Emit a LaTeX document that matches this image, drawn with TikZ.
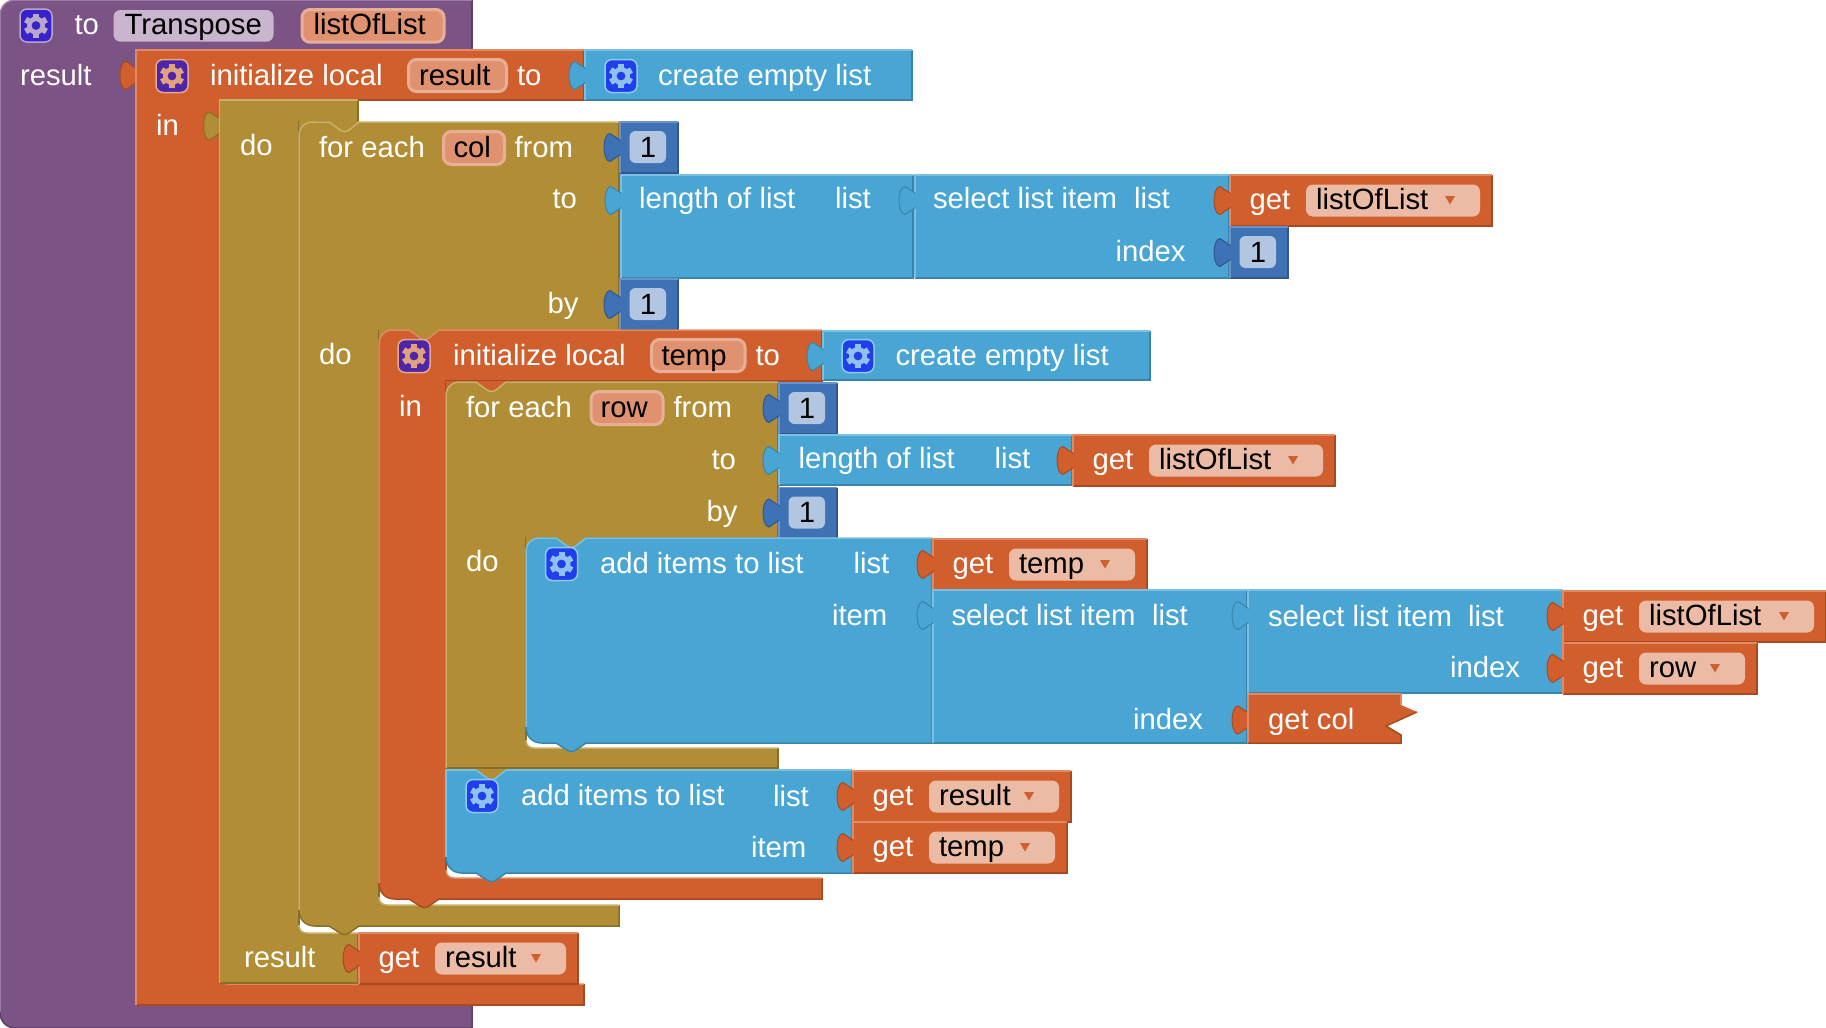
\documentclass[tikz,border=0pt]{standalone}
\usepackage{fontspec}
\setmainfont{Liberation Sans}
\definecolor{puF}{HTML}{7C5385}\definecolor{puL}{HTML}{9B7BA3}\definecolor{puD}{HTML}{5F3F68}
\definecolor{orF}{HTML}{D05F2D}\definecolor{orL}{HTML}{E08A63}\definecolor{orD}{HTML}{A84A20}
\definecolor{goF}{HTML}{B18E35}\definecolor{goL}{HTML}{CBB06C}\definecolor{goD}{HTML}{8A6E28}
\definecolor{blF}{HTML}{49A6D4}\definecolor{blL}{HTML}{7BC0E2}\definecolor{blD}{HTML}{3A84A9}
\definecolor{nuF}{HTML}{3F71B5}\definecolor{nuL}{HTML}{6C92CB}\definecolor{nuD}{HTML}{30578E}
\definecolor{fldF}{HTML}{E09270}\definecolor{fldB}{HTML}{E8AE98}
\definecolor{drop}{HTML}{EBBBA5}\definecolor{numf}{HTML}{B2C6E1}\definecolor{namef}{HTML}{C9B6CE}
\definecolor{gearpu}{HTML}{3722CE}\definecolor{gearpc}{HTML}{BBA7C8}\definecolor{gearpb}{HTML}{B9A5C6}
\definecolor{gearor}{HTML}{4E25A8}\definecolor{gearoc}{HTML}{E0A27C}\definecolor{gearob}{HTML}{E6A98F}
\definecolor{gearbl}{HTML}{1F3FEF}\definecolor{gearbc}{HTML}{8FC0EE}\definecolor{gearbb}{HTML}{8FCBEA}
\newcounter{lc}
\tikzset{lab/.style={inner sep=0pt,outer sep=0pt,anchor=base west,font=\fontsize{29.3}{29.3}\selectfont,text=white},
 blk/.style={line width=1.5pt,line cap=butt}}
\newcommand{\lab}[3]{\stepcounter{lc}\node[lab] (t\arabic{lc}) at (#1,#2) {#3};}
\newcommand{\blab}[3]{\stepcounter{lc}\node[lab,text=black] (t\arabic{lc}) at (#1,#2) {#3};}
\def\blr{14}
\newcommand{\cblock}[9]{%
 \fill[#1F] (#2,{#3+#9}) .. controls (#2,{#3+.4*#9}) and ({#2+.4*#9},#3) .. ({#2+#9},#3) -- (#4,#3) -- (#4,#5) -- (#6,#5) -- (#6,{#7-8}) .. controls (#6,{#7-3}) and ({#6+3},#7) .. ({#6+8},#7) -- (#4,#7) -- (#4,#8) -- ({#2+\blr},#8) .. controls ({#2+.4*\blr},#8) and (#2,{#8-.4*\blr}) .. (#2,{#8-\blr}) -- cycle;
 \draw[blk,#1D] (#4,#3) -- (#4,#5) -- (#6,#5) -- (#6,{#7-8});
 \draw[blk,#1D] (#4,#7) -- (#4,#8) -- ({#2+\blr},#8) .. controls ({#2+.4*\blr},#8) and (#2,{#8-.4*\blr}) .. (#2,{#8-\blr});
 \draw[blk,#1L] (#2,{#8-\blr}) -- (#2,{#3+#9}) .. controls (#2,{#3+.4*#9}) and ({#2+.4*#9},#3) .. ({#2+#9},#3) -- (#4,#3);
 \draw[blk,#1L] (#6,{#7-8}) .. controls (#6,{#7-3}) and ({#6+3},#7) .. ({#6+8},#7) -- (#4,#7);
}
\newcommand{\sblock}[7]{%
 \fill[#1F] (#2,{#3+#6}) .. controls (#2,{#3+.4*#6}) and ({#2+.4*#6},#3) .. ({#2+#6},#3) -- (#4,#3) -- (#4,#5) -- ({#2+#7},#5) .. controls ({#2+.4*#7},#5) and (#2,{#5-.4*#7}) .. (#2,{#5-#7}) -- cycle;
 \draw[blk,#1D] (#4,#3) -- (#4,#5) -- ({#2+#7},#5) .. controls ({#2+.4*#7},#5) and (#2,{#5-.4*#7}) .. (#2,{#5-#7});
 \draw[blk,#1L] (#2,{#5-#7}) -- (#2,{#3+#6}) .. controls (#2,{#3+.4*#6}) and ({#2+.4*#6},#3) .. ({#2+#6},#3) -- (#4,#3);
}
\newcommand{\notchf}[4]{%
 \fill[#1F] ({#3+30},{#4-1}) -- ({#3+30},#4) -- ({#3+41},{#4+8}) .. controls ({#3+44},{#4+10}) and ({#3+47},{#4+10}) .. ({#3+50},{#4+8}) -- ({#3+60},#4) -- ({#3+60},{#4-1}) -- cycle;
 \draw[blk,#2L] ({#3+30},#4) -- ({#3+41},{#4+8}) .. controls ({#3+44},{#4+10}) and ({#3+47},{#4+10}) .. ({#3+50},{#4+8}) -- ({#3+60},#4);
}
\newcommand{\btab}[3]{%
 \fill[#1F] ({#2+30},{#3-1}) -- ({#2+41},{#3+7}) .. controls ({#2+44},{#3+9}) and ({#2+47},{#3+9}) .. ({#2+50},{#3+7}) -- ({#2+60},{#3-1}) -- cycle;
 \draw[blk,#1D] ({#2+30},#3) -- ({#2+41},{#3+7}) .. controls ({#2+44},{#3+9}) and ({#2+47},{#3+9}) .. ({#2+50},{#3+7}) -- ({#2+60},#3);
}
\newcommand{\cfill}[3]{\fill[#1F] (#2,{#3-1}) rectangle ({#2+15},{#3+15});}
\newcommand{\ptab}[3]{%
 \fill[#1F] ({#2+1},{#3-7}) -- ({#2-10},{#3-14}) .. controls ({#2-14},{#3-14}) and ({#2-16},{#3-6}) .. ({#2-16},{#3}) .. controls ({#2-16},{#3+6}) and ({#2-14},{#3+14}) .. ({#2-10},{#3+14}) -- ({#2+1},{#3+7}) -- cycle;
 \draw[line width=1pt,#1D] ({#2+.5},{#3-7}) -- ({#2-10},{#3-14}) .. controls ({#2-14},{#3-14}) and ({#2-16},{#3-6}) .. ({#2-16},{#3}) .. controls ({#2-16},{#3+6}) and ({#2-14},{#3+14}) .. ({#2-10},{#3+14}) -- ({#2+.5},{#3+7});
}
\newcommand{\vblock}[5]{%
 \fill[#1F] (#2,#3) rectangle (#4,#5);
 \draw[blk,#1D] (#4,#3) -- (#4,#5) -- (#2,#5);
 \draw[blk,#1L] (#2,#5) -- (#2,#3) -- (#4,#3);
 \ptab{#1}{#2}{(#3+25.5)}
}
\newcommand{\namefld}[7]{%
 \draw[line width=3pt,draw=fldB,fill=fldF,rounded corners=8pt] ({#1+1.5},{#2+1.5}) rectangle ({#3-1.5},{#4-1.5});
 \blab{#5}{#6}{#7}
}
\newcommand{\gearx}[5]{%
 \draw[line width=1.5pt,draw=gear#3,fill=gear#1,rounded corners=7pt] ({#4-16},{#5-16.5}) rectangle ({#4+16},{#5+16.5});
 \fill[gear#2,even odd rule] (#4,#5) circle[radius=9pt] (#4,#5) circle[radius=4.5pt];
 \foreach \a in {0,60,...,300}{\fill[gear#2,rotate around={\a:(#4,#5)}] ({#4-3},{#5-12}) rectangle ({#4+3},{#5-7.5});}
}
\newcommand{\getb}[4]{%
 \vblock{or}{#1}{#2}{#3}{{#2+51}}
 \lab{{#1+19.5}}{{#2+34}}{get}
 \fill[drop,rounded corners=7pt] ({#1+76},{#2+9.5}) rectangle ({#3-12},{#2+41.5});
 \blab{{#1+86}}{{#2+34}}{#4}
 \fill[orF] ({#3-47},{#2+21}) -- ({#3-37},{#2+21}) -- ({#3-42},{#2+29.5}) -- cycle;
}
\newcommand{\numb}[2]{%
 \vblock{nu}{#1}{#2}{{#1+58}}{{#2+51}}
 \fill[numf,rounded corners=6pt] ({#1+9.5},{#2+9}) rectangle ({#1+46},{#2+41});
 \stepcounter{lc}\node[lab,text=black,anchor=base] (t\arabic{lc}) at ({#1+28},{#2+35}) {1};
}
\begin{document}
\begin{tikzpicture}[x=1pt,y=-1pt]
\useasboundingbox (0,0) rectangle (1826,1028);
\def\blr{16}
\cblock{pu}{0}{0}{472}{50}{136}{1005}{1028}{16}
\gearx{pu}{pc}{pb}{36}{25.5}
\lab{74.5}{34}{to}
\fill[namef,rounded corners=7pt] (113.5,10) rectangle (273.5,41.7);
\blab{124.5}{34}{Transpose}
\namefld{300.5}{8}{445.5}{43.7}{313.5}{34}{listOfList}
\lab{20}{85}{result}
\def\blr{0}
\ptab{or}{136}{75.5}
\cblock{or}{136}{50}{584}{100}{219.5}{984}{1005}{0}
\gearx{or}{oc}{ob}{172}{76}
\lab{210}{85}{initialize local}
\namefld{407}{58}{508}{93}{419}{85}{result}
\lab{517}{85}{to}
\lab{156}{135}{in}
\vblock{bl}{585}{50}{912}{100}
\gearx{bl}{bc}{bb}{621}{76}
\lab{658}{85}{create empty list}
\ptab{go}{219.5}{126}
\cblock{go}{219.5}{100}{358}{122}{299}{933}{983}{0}
\lab{240}{155}{do}
\lab{244}{967}{result}
\getb{359}{933}{578}{result}
\cfill{go}{299}{122}
\def\blr{16}
\cblock{go}{299}{122}{619}{331}{379}{905}{926}{14}
\notchf{go}{go}{299}{122}
\lab{319}{157}{for each}
\namefld{442}{130}{506}{166}{453.5}{157}{col}
\lab{514.5}{157}{from}
\lab{552.5}{208}{to}
\lab{547.5}{313}{by}
\lab{319}{364}{do}
\numb{620}{122}
\vblock{bl}{621}{175}{913}{278}
\lab{639}{208}{length of list}
\lab{835}{208}{list}
\vblock{bl}{915}{175}{1229}{278}
\lab{933}{208}{select list item}
\lab{1134}{208}{list}
\lab{1115.5}{261}{index}
\getb{1230}{175}{1492}{listOfList}
\numb{1230}{227}
\numb{620}{279}
\cfill{go}{379}{330}
\cblock{or}{379}{330}{822}{381}{446}{878}{899}{14}
\notchf{go}{or}{379}{330}
\gearx{or}{oc}{ob}{414}{356}
\lab{453}{365}{initialize local}
\namefld{650}{338}{746.5}{373}{661.5}{365}{temp}
\lab{755.5}{365}{to}
\lab{399}{416}{in}
\vblock{bl}{823}{331}{1150}{380}
\gearx{bl}{bc}{bb}{858}{356}
\lab{895.5}{365}{create empty list}
\cfill{or}{446}{382}
\def\blr{0}
\cblock{go}{446}{382}{778}{538}{526}{748}{768}{14}
\notchf{or}{go}{446}{382}
\lab{466}{417}{for each}
\namefld{589.5}{390}{664.5}{426}{600.5}{417}{row}
\lab{673.5}{417}{from}
\lab{711.5}{469}{to}
\lab{706.5}{521}{by}
\lab{466}{571}{do}
\numb{779}{383}
\vblock{bl}{779}{435}{1072}{485}
\lab{798.5}{468}{length of list}
\lab{994.5}{468}{list}
\getb{1073}{435}{1335}{listOfList}
\numb{779}{487.5}
\cfill{go}{526}{538}
\sblock{bl}{526}{538}{932}{743}{14}{16}
\notchf{go}{bl}{526}{538}
\gearx{bl}{bc}{bb}{561.5}{564}
\lab{600}{573}{add items to list}
\lab{853.5}{573}{list}
\lab{832}{625}{item}
\getb{933}{539}{1147}{temp}
\vblock{bl}{933}{590}{1247}{743}
\lab{951.5}{625}{select list item}
\lab{1152}{625}{list}
\lab{1133}{729}{index}
\vblock{bl}{1248}{590}{1563}{693}
\lab{1268}{626}{select list item}
\lab{1468}{626}{list}
\lab{1450}{677}{index}
\getb{1563}{591}{1826}{listOfList}
\getb{1563}{643}{1757}{row}
\ptab{or}{1248}{720}
\fill[orF] (1248,694) -- (1401,694) -- (1401,705) -- (1417,712) -- (1386,726) -- (1401,735) -- (1401,743) -- (1248,743) -- cycle;
\draw[blk,orL] (1248,743) -- (1248,694) -- (1401,694) -- (1401,705);
\draw[blk,orD] (1417,712) -- (1386,726) -- (1401,735) -- (1401,743) -- (1248,743);
\lab{1268}{729}{get col}
\btab{bl}{526}{743}
\sblock{bl}{446}{770}{852}{873}{0}{16}
\notchf{go}{bl}{446}{770}
\gearx{bl}{bc}{bb}{482}{796}
\lab{521}{805}{add items to list}
\lab{773}{806}{list}
\lab{751}{857}{item}
\getb{853}{771}{1071}{result}
\getb{853}{822}{1067}{temp}
\btab{bl}{446}{873}
\btab{or}{379}{899}
\btab{go}{299}{926}
\end{tikzpicture}
\end{document}
